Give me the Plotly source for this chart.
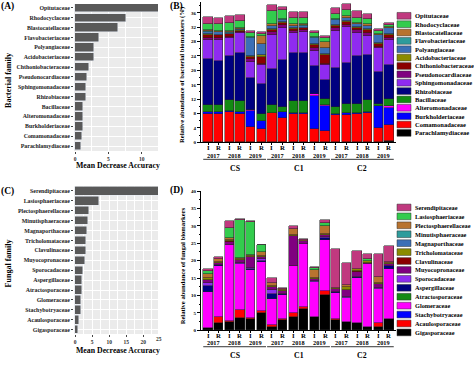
import plotly.graph_objects as go

W, H = 474, 366
def fx(px): return px / W
def fy(py): return 1 - py / H

FONT = "Liberation Serif"

# ---------------- Panel A / C data ----------------
bact_families = ["Opitutaceae", "Rhodocyclaceae", "Blastocatellaceae", "Flavobacteriaceae",
                 "Polyangiaceae", "Acidobacteriaceae", "Chthoniobacteraceae", "Pseudonocardiaceae",
                 "Sphingomonadaceae", "Rhizobiaceae", "Bacillaceae", "Alteromonadaceae",
                 "Burkholderiaceae", "Comamonadaceae", "Parachlamydiaceae"]
bact_mda = [12.6, 7.6, 6.5, 3.55, 2.9, 2.9, 2.15, 1.75, 1.6, 1.6, 1.25, 1.2, 1.2, 1.1, 0.95]

fung_families = ["Serendipitaceae", "Lasiosphaeriaceae", "Plectosphaerellaceae", "Minutisphaeraceae",
                 "Magnaporthaceae", "Tricholomataceae", "Clavulinaceae", "Muyocopronaceae",
                 "Sporocadaceae", "Aspergillaceae", "Atractosporaceae", "Glomeraceae",
                 "Stachybotryaceae", "Acaulosporaceae", "Gigasporaceae"]
fung_mda = [24.5, 7.0, 4.2, 3.9, 3.4, 3.2, 3.2, 3.0, 2.35, 2.05, 2.05, 1.85, 1.75, 1.27, 0.97]

mda_ticks_a = [0, 5, 10]
mda_ticks_c = [0, 5, 10, 15, 20]
mda_edge_label_c = "25"

# ---------------- Panel B / D data ----------------
sites = ["CS", "C1", "C2"]
years = ["2017", "2018", "2019"]
treatments = ["I", "R"]

# bacterial stacked values (18 bars: site x year x treatment), per family
bact_stack = {
    "Parachlamydiaceae":   [0.2, 0.2, 0.2, 0.2, 0.2, 0.2, 0.2, 0.2, 0.2, 0.2, 0.2, 0.2, 0.2, 0.2, 0.2, 0.2, 0.2, 0.3],
    "Comamonadaceae":      [7.65, 7.8, 8.1, 7.65, 4.2, 3.4, 7.9, 6.6, 7.7, 7.7, 3.4, 3.0, 7.3, 7.3, 7.7, 7.9, 3.8, 4.4],
    "Burkholderiaceae":    [0.5, 0.4, 0.5, 0.5, 4.2, 2.3, 0.1, 1.6, 0.3, 0.2, 9.4, 7.0, 0.4, 0.6, 0.3, 0.3, 6.0, 4.9],
    "Alteromonadaceae":    [0.05, 0.05, 0.05, 0.05, 0.4, 0.05, 0.05, 0.05, 0.05, 0.05, 0.4, 0.1, 0.05, 0.05, 0.05, 0.05, 0.1, 0.4],
    "Bacillaceae":         [1.9, 1.85, 3.05, 3.1, 0.1, 1.95, 2.05, 1.35, 3.15, 3.25, 0.1, 1.8, 1.85, 2.55, 2.45, 3.35, 0.6, 2.1],
    "Rhizobiaceae":        [12.9, 12.2, 12.0, 13.3, 8.7, 8.3, 10.1, 13.2, 13.4, 13.4, 7.7, 5.2, 10.9, 11.4, 13.2, 12.6, 8.9, 9.5],
    "Sphingomonadaceae":   [5.2, 5.9, 5.0, 5.6, 4.6, 5.3, 9.5, 8.9, 5.5, 5.8, 4.3, 4.2, 10.3, 10.0, 6.4, 5.2, 6.6, 6.9],
    "Pseudonocardiaceae":  [0.6, 0.6, 0.5, 0.2, 0.9, 0.3, 0.7, 0.7, 0.7, 0.5, 0.7, 0.4, 0.7, 0.6, 0.9, 0.7, 0.4, 0.6],
    "Chthoniobacteraceae": [0.8, 0.7, 0.6, 0.3, 0.4, 1.9, 0.6, 0.7, 0.6, 0.6, 0.9, 2.3, 0.7, 0.8, 0.7, 0.9, 0.7, 0.8],
    "Acidobacteriaceae":   [0.2, 0.2, 0.2, 0.2, 0.2, 0.5, 0.2, 0.2, 0.2, 0.2, 0.3, 0.4, 0.2, 0.2, 0.2, 0.2, 0.3, 0.2],
    "Polyangiaceae":       [0.7, 0.7, 0.3, 0.3, 5.2, 3.1, 0.9, 0.5, 0.4, 0.5, 1.6, 1.6, 1.4, 0.8, 0.7, 0.9, 2.1, 1.6],
    "Flavobacteriaceae":   [0.15, 0.15, 0.15, 0.15, 0.15, 0.15, 0.15, 0.15, 0.15, 0.15, 0.15, 0.15, 0.15, 0.15, 0.15, 0.15, 0.15, 0.15],
    "Blastocatellaceae":   [0.3, 0.3, 0.4, 0.3, 0.1, 2.0, 0.3, 0.2, 0.4, 0.3, 0.2, 1.6, 0.2, 0.4, 0.3, 0.3, 0.2, 0.3],
    "Rhodocyclaceae":      [1.8, 1.75, 2.25, 1.75, 0.95, 0.65, 3.65, 2.35, 1.85, 1.75, 1.15, 1.15, 1.45, 1.65, 1.35, 1.45, 0.95, 0.45],
    "Opitutaceae":         [1.75, 1.7, 1.8, 1.8, 0.7, 0.5, 1.7, 0.9, 1.5, 1.7, 0.5, 0.5, 1.6, 1.7, 1.8, 1.4, 0.5, 0.7],
}

fung_stack = {
    "Gigasporaceae":        [0.7, 2.0, 2.4, 3.6, 3.3, 4.9, 1.0, 2.8, 3.9, 6.1, 3.8, 10.0, 2.8, 2.2, 1.9, 0.8, 0.9, 3.1],
    "Acaulosporaceae":      [0.0, 1.8, 0.3, 2.2, 0.1, 0.6, 0.4, 0.5, 1.1, 0.5, 0.0, 1.3, 0.3, 0.1, 0.0, 0.0, 1.0, 0.0],
    "Stachybotryaceae":     [0.0, 0.0, 0.0, 0.0, 0.0, 0.0, 0.0, 0.0, 0.0, 0.0, 0.0, 0.0, 0.0, 0.0, 0.0, 0.0, 0.0, 0.0],
    "Glomeraceae":          [10.3, 14.6, 21.7, 13.1, 14.0, 14.1, 7.4, 6.9, 13.3, 18.1, 10.0, 14.5, 7.6, 6.8, 13.2, 18.1, 10.0, 14.5],
    "Atractosporaceae":     [0.0, 0.0, 0.0, 0.0, 0.0, 0.0, 0.0, 0.0, 0.0, 0.0, 0.0, 0.0, 0.0, 0.0, 0.0, 0.0, 0.0, 0.0],
    "Aspergillaceae":       [1.8, 0.2, 0.0, 0.0, 0.3, 0.4, 1.6, 0.1, 0.0, 0.1, 0.0, 0.8, 0.2, 0.0, 0.3, 0.0, 0.0, 0.7],
    "Sporocadaceae":        [0.8, 0.2, 0.2, 0.4, 0.2, 0.3, 1.0, 0.2, 0.0, 0.0, 0.2, 0.1, 0.0, 0.3, 0.0, 0.0, 0.3, 0.0],
    "Muyocopronaceae":      [0.8, 0.5, 0.6, 0.8, 3.0, 0.7, 1.0, 0.7, 8.7, 0.8, 0.7, 0.7, 0.8, 2.0, 1.4, 0.3, 1.0, 0.6],
    "Clavulinaceae":        [0.1, 0.0, 0.3, 0.0, 0.1, 0.0, 0.0, 0.0, 0.2, 0.0, 0.0, 0.0, 0.0, 0.1, 0.3, 0.0, 0.0, 0.0],
    "Tricholomataceae":     [0.4, 0.2, 0.4, 0.2, 0.3, 0.3, 0.3, 0.3, 0.2, 0.0, 0.3, 0.3, 0.4, 0.9, 0.6, 0.8, 0.3, 0.4],
    "Magnaporthaceae":      [0.0, 0.0, 0.0, 0.0, 0.0, 0.0, 0.0, 0.0, 0.0, 0.0, 0.0, 0.0, 0.0, 0.0, 0.0, 0.0, 0.0, 0.0],
    "Minutisphaeraceae":    [0.0, 0.0, 0.0, 0.0, 0.0, 0.0, 0.0, 0.0, 0.0, 0.0, 0.0, 0.0, 0.0, 0.0, 0.0, 0.0, 0.0, 0.0],
    "Plectosphaerellaceae": [1.3, 0.9, 0.5, 0.3, 0.4, 1.1, 0.9, 0.4, 1.6, 0.2, 2.4, 2.1, 0.0, 0.6, 0.0, 0.0, 1.9, 0.4],
    "Lasiosphaeriaceae":    [0.8, 0.1, 2.9, 11.0, 9.3, 2.1, 0.0, 0.0, 0.0, 0.0, 0.4, 1.1, 0.0, 0.0, 0.0, 0.4, 0.0, 0.0],
    "Serendipitaceae":      [0.6, 0.5, 2.1, 0.3, 0.5, 0.0, 1.3, 0.3, 0.8, 0.3, 0.2, 0.9, 11.2, 6.2, 5.0, 1.6, 6.6, 4.4],
}

palette = ["#C0397F", "#33CC4D", "#B8732F", "#2E9C9C", "#3B6FB6", "#8B8B00", "#8B0000", "#800080",
           "#8F2BF0", "#000080", "#138A13", "#FF00FF", "#0000FF", "#FF0000", "#000000"]

fig = go.Figure()

# Panel A
fig.add_trace(go.Bar(x=bact_mda, y=bact_families, orientation="h", marker_color="#595959",
                     width=0.85, xaxis="x", yaxis="y", showlegend=False))
# Panel C
fig.add_trace(go.Bar(x=fung_mda, y=fung_families, orientation="h", marker_color="#595959",
                     width=0.85, xaxis="x3", yaxis="y3", showlegend=False))

bar_idx = list(range(len(sites) * len(years) * len(treatments)))
tick_ir = [t for s in sites for y in years for t in treatments]

# Panel B stacked (bottom first)
for name, col in zip(reversed(bact_families), reversed(palette)):
    fig.add_trace(go.Bar(x=bar_idx, y=bact_stack[name], marker_color=col,
                         marker_line=dict(color="#222222", width=0.5), width=0.87,
                         xaxis="x2", yaxis="y2", showlegend=False, name=name))
# Panel D stacked
for name, col in zip(reversed(fung_families), reversed(palette)):
    fig.add_trace(go.Bar(x=bar_idx, y=fung_stack[name], marker_color=col,
                         marker_line=dict(color="#222222", width=0.5), width=0.87,
                         xaxis="x4", yaxis="y4", showlegend=False, name=name))

cat_font = dict(family=FONT, size=5.9, color="#222222", weight="bold")
tick_bold = dict(family=FONT, size=5.5, color="#333333", weight="bold")

gg_x = dict(showgrid=True, gridcolor="white", gridwidth=0.7, zeroline=False, ticks="outside",
            ticklen=2, tickcolor="#444444", tickfont=tick_bold, showline=False)
gg_y = dict(type="category", showgrid=True, gridcolor="white", gridwidth=0.7, ticks="outside",
            ticklen=2, tickcolor="#444444", tickfont=cat_font, showline=False, zeroline=False)

axfont = dict(family=FONT, size=5, color="black", weight="bold")

layout = dict(
    width=W, height=H, margin=dict(l=0, r=0, t=0, b=0),
    paper_bgcolor="white", plot_bgcolor="white", barmode="stack", bargap=0,
    font=dict(family=FONT),
    xaxis=dict(domain=[fx(74), fx(158)], anchor="y", range=[-0.15, 12.45],
               tickvals=mda_ticks_a, minor=dict(tickvals=[2.5, 7.5, 12.5], showgrid=True,
               gridcolor="white", gridwidth=0.35), **gg_x),
    yaxis=dict(domain=[fy(151), fy(2)], anchor="x", categoryorder="array",
               categoryarray=bact_families, range=[14.5, -0.4], **gg_y),
    xaxis3=dict(domain=[fx(74), fx(158)], anchor="y3", range=[-0.3, 24.3],
                tickvals=mda_ticks_c, minor=dict(tickvals=[2.5, 7.5, 12.5, 17.5, 22.5],
                showgrid=True, gridcolor="white", gridwidth=0.35), **gg_x),
    yaxis3=dict(domain=[fy(336.7), fy(187)], anchor="x3", categoryorder="array",
                categoryarray=fung_families, range=[14.45, -0.45], **gg_y),
    xaxis2=dict(domain=[fx(201), fx(396)], anchor="y2", range=[-0.66, 17.66],
                tickvals=bar_idx, showticklabels=False, showline=True, linecolor="black", linewidth=1,
                ticks="outside", ticklen=2, tickcolor="black", showgrid=False, zeroline=False),
    yaxis2=dict(domain=[fy(142.3), 1.0], anchor="x2", range=[0, 39], dtick=4,
                showline=True, linecolor="black", linewidth=1, ticks="outside", ticklen=3,
                tickcolor="black", tickfont=axfont, showgrid=False, zeroline=False,
                minor=dict(ticks="outside", ticklen=1.5, dtick=2, tickcolor="black")),
    xaxis4=dict(domain=[fx(201), fx(396)], anchor="y4", range=[-0.66, 17.66],
                tickvals=bar_idx, showticklabels=False, showline=True, linecolor="black", linewidth=1,
                ticks="outside", ticklen=2, tickcolor="black", showgrid=False, zeroline=False),
    yaxis4=dict(domain=[fy(332.7), fy(191.7)], anchor="x4", range=[0, 40], dtick=5,
                showline=True, linecolor="black", linewidth=1, ticks="outside", ticklen=3,
                tickcolor="black", tickfont=axfont, showgrid=False, zeroline=False,
                minor=dict(ticks="outside", ticklen=1.5, dtick=2.5, tickcolor="black")),
)
fig.update_layout(**layout)

shapes = []
annotations = []

def ann(text, x, y, size, xref="paper", xanchor="center", angle=0, color="black"):
    annotations.append(dict(text=text, x=x, y=y, xref=xref, yref="paper", showarrow=False,
                            xanchor=xanchor, yanchor="middle", textangle=angle,
                            font=dict(family=FONT, size=size, color=color, weight="bold")))

# gray panel backgrounds for A and C
for xr, yr in [("x", "y"), ("x3", "y3")]:
    shapes.append(dict(type="rect", xref=f"{xr} domain", yref=f"{yr} domain", x0=0, x1=1, y0=0, y1=1,
                       fillcolor="#EBEBEB", line=dict(width=0), layer="below"))

# tick label of C just beyond the visible range
ann(mda_edge_label_c, fx(158.5), fy(341.5), 5.5, color="#333333")

# panel labels
for txt, px, py in [("(A)", 7, 5), ("(B)", 176, 5), ("(C)", 7, 192), ("(D)", 176, 191)]:
    ann(txt, fx(px), fy(py), 9.5)

# axis titles A / C
ann("Bacterial family", fx(9), fy(80), 8, angle=-90)
ann("Fungal family", fx(8), fy(265), 8, angle=-90)
ann("Mean Decrease Accuracy", fx(74), fy(166), 7.8, xanchor="left")
ann("Mean Decrease Accuracy", fx(74), fy(353), 7.8, xanchor="left")

# axis titles B / D
ann("Relative abundance of bacterial biomarkers (%)", fx(182), fy(74), 6.6, angle=-90)
ann("Relative abundance of fungal biomarkers", fx(182), fy(268), 6.6, angle=-90)

# multi-level x labels for B and D
for xr, y_ir, y_year, y_line, y_site in [("x2", 148, 155.5, 159.5, 169), ("x4", 338.5, 345.5, 349.5, 358.5)]:
    for i, t in zip(bar_idx, tick_ir):
        ann(t, i, fy(y_ir), 6.8, xref=xr)
    for si, s in enumerate(sites):
        for yi, yv in enumerate(years):
            ann(yv, si * 6 + yi * 2 + 0.5, fy(y_year), 6.3, xref=xr)
        shapes.append(dict(type="line", xref=xr, yref="paper", x0=si * 6 - 0.45, x1=si * 6 + 5.45,
                           y0=fy(y_line), y1=fy(y_line), line=dict(color="black", width=0.8)))
        ann(s, si * 6 + 2.5, fy(y_site), 7.8, xref=xr)

# manual legends
def legend(names, top, step, size):
    for i, (n, col) in enumerate(zip(names, palette)):
        yc = top + i * step
        shapes.append(dict(type="rect", xref="paper", yref="paper", x0=fx(397), x1=fx(411),
                           y0=fy(yc + 3.4), y1=fy(yc - 3.4), fillcolor=col,
                           line=dict(color="#333333", width=0.5)))
        ann(n, fx(413), fy(yc), size, xanchor="left")

legend(bact_families, 14, 8.48, 6.5)
legend(fung_families, 208.3, 9.05, 6.3)

fig.update_layout(shapes=shapes, annotations=annotations)
fig.write_html("out.html", config={"displayModeBar": False},
               post_script="document.body.style.margin='0';document.body.style.padding='0';")
